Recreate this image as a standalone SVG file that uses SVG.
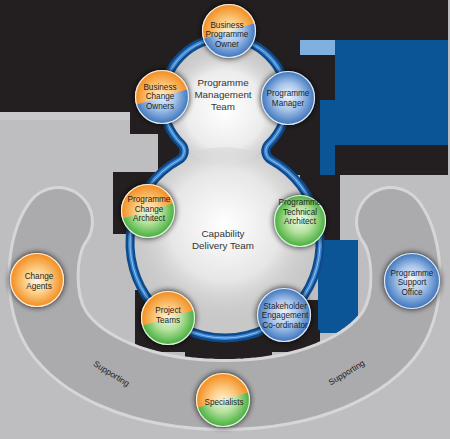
<svg xmlns="http://www.w3.org/2000/svg" width="450" height="439" viewBox="0 0 450 439">
<defs>
<style>
.nt{font-family:"Liberation Sans",Arial,sans-serif;font-size:8.2px;fill:#1e1e1e;text-anchor:middle}
.ct{font-family:"Liberation Sans",Arial,sans-serif;font-size:9.8px;fill:#333;text-anchor:middle}
.st{font-family:"Liberation Sans",Arial,sans-serif;font-size:8.4px;fill:#1e1e1e;text-anchor:middle}
.dk{fill:#231f20}
.bl{fill:#0b5596}
.rim{fill:none;stroke:#ffffff;stroke-opacity:.85;stroke-width:1.2}
</style>
<radialGradient id="gOr" cx=".5" cy=".5" r=".5" fx=".5" fy=".55">
<stop offset="0" stop-color="#fff6e6"/><stop offset=".45" stop-color="#fccf88"/><stop offset="1" stop-color="#f28a1c"/>
</radialGradient>
<radialGradient id="gBl" cx=".5" cy=".5" r=".5" fx=".5" fy=".45">
<stop offset="0" stop-color="#eef4fc"/><stop offset=".5" stop-color="#a8c5ea"/><stop offset="1" stop-color="#3b73bc"/>
</radialGradient>
<radialGradient id="gGr" cx=".5" cy=".5" r=".5" fx=".5" fy=".45">
<stop offset="0" stop-color="#f3fbee"/><stop offset=".5" stop-color="#b6e29e"/><stop offset="1" stop-color="#42ad3a"/>
</radialGradient>
<radialGradient id="gTop" cx=".5" cy=".55" r=".55">
<stop offset="0" stop-color="#ffffff"/><stop offset=".6" stop-color="#ececec"/><stop offset="1" stop-color="#cfcfcf" stop-opacity="0"/>
</radialGradient>
<radialGradient id="gBot" cx=".5" cy=".42" r=".55">
<stop offset="0" stop-color="#ffffff"/><stop offset=".55" stop-color="#e6e6e6"/><stop offset="1" stop-color="#c4c4c4" stop-opacity="0"/>
</radialGradient>
<clipPath id="topPart"><path d="M-40,-40 H40 V-12 L-40,12 Z"/></clipPath>
<filter id="sh" x="-40%" y="-40%" width="180%" height="180%">
<feGaussianBlur in="SourceAlpha" stdDeviation="3"/>
<feComponentTransfer><feFuncA type="linear" slope="0.9"/></feComponentTransfer>
<feMerge><feMergeNode/><feMergeNode in="SourceGraphic"/></feMerge>
</filter>
</defs>

<g id="background">
<rect x="0" y="0" width="450" height="439" fill="#bebec0"/>
<rect x="0" y="112" width="130" height="8" fill="#c9c9cb"/>
<rect class="dk" x="0" y="0" width="448" height="40"/>
<rect class="dk" x="0" y="40" width="335" height="72"/>
<rect class="bl" x="335" y="40" width="113" height="105"/>
<rect x="300" y="40" width="35" height="15" fill="#7fb0e0"/>
<rect class="dk" x="335" y="145" width="113" height="30"/>
<rect class="dk" x="130" y="112" width="30" height="22"/>
<rect class="dk" x="158" y="112" width="177" height="63"/>
<rect class="bl" x="320" y="100" width="15" height="90"/>
<rect class="dk" x="113" y="172" width="50" height="62"/>
<rect class="dk" x="300" y="175" width="40" height="65"/>
<rect class="bl" x="318" y="240" width="40" height="93"/>
<rect class="dk" x="135" y="290" width="30" height="62"/>
<rect class="dk" x="135" y="330" width="185" height="22"/>
<rect class="dk" x="185" y="352" width="87" height="10"/>
<rect class="dk" x="295" y="300" width="23" height="45"/>
</g>

<g id="band">
<path d="M58,222 C40,245 38,300 57,330 C80,365 140,395 224.5,395 C309,395 369,365 392,330 C411,300 409,245 391,222" fill="none" stroke="#d6d6d8" stroke-width="72" stroke-linecap="round" stroke-dasharray="5 2"/>
<path d="M58,222 C40,245 38,300 57,330 C80,365 140,395 224.5,395 C309,395 369,365 392,330 C411,300 409,245 391,222" fill="none" stroke="#ababad" stroke-width="66" stroke-linecap="round"/>
<text class="st" transform="translate(110,376) rotate(32)">Supporting</text>
<text class="st" transform="translate(348,375) rotate(-31)">Supporting</text>
</g>

<g id="teams">
<path d="M181.3,144 A62,62 0 1 1 268.7,144 A10,10 0 0 0 270.9,159.85 A95,95 0 1 1 179.1,159.85 A10,10 0 0 0 181.3,144 Z" fill="#c8c8c8"/>
<circle cx="225" cy="104" r="60" fill="url(#gTop)"/>
<circle cx="225" cy="240" r="93" fill="url(#gBot)"/>
<path d="M181.3,144 A62,62 0 1 1 268.7,144 A10,10 0 0 0 270.9,159.85 A95,95 0 1 1 179.1,159.85 A10,10 0 0 0 181.3,144 Z" fill="none" stroke="#0e4a8c" stroke-width="9"/>
<path d="M181.3,144 A62,62 0 1 1 268.7,144 A10,10 0 0 0 270.9,159.85 A95,95 0 1 1 179.1,159.85 A10,10 0 0 0 181.3,144 Z" fill="none" stroke="#3d86cf" stroke-width="4"/>
<path d="M181.3,144 A62,62 0 1 1 268.7,144 A10,10 0 0 0 270.9,159.85 A95,95 0 1 1 179.1,159.85 A10,10 0 0 0 181.3,144 Z" fill="none" stroke="#8cc0ee" stroke-width="1"/>
<text class="ct" x="223" y="86">Programme</text>
<text class="ct" x="223" y="98">Management</text>
<text class="ct" x="223" y="110">Team</text>
<text class="ct" x="223" y="237">Capability</text>
<text class="ct" x="223" y="249">Delivery Team</text>
</g>

<g id="business-programme-owner" transform="translate(229,31)">
<g filter="url(#sh)"><circle r="27" fill="url(#gBl)"/><circle r="27" fill="url(#gOr)" clip-path="url(#topPart)"/></g>
<circle r="26.5" class="rim"/>
<text class="nt" x="-2" y="-3">Business</text><text class="nt" x="-2" y="6.3">Programme</text><text class="nt" x="-2" y="15.6">Owner</text>
</g>

<g id="business-change-owners" transform="translate(162,97)">
<g filter="url(#sh)"><circle r="27" fill="url(#gBl)"/><circle r="27" fill="url(#gOr)" clip-path="url(#topPart)"/></g>
<circle r="26.5" class="rim"/>
<text class="nt" x="-2" y="-7">Business</text><text class="nt" x="-2" y="2.3">Change</text><text class="nt" x="-2" y="11.6">Owners</text>
</g>

<g id="programme-manager" transform="translate(288,98)">
<g filter="url(#sh)"><circle r="27" fill="url(#gBl)"/></g>
<circle r="26.5" class="rim"/>
<text class="nt" x="0" y="-2">Programme</text><text class="nt" x="0" y="8">Manager</text>
</g>

<g id="programme-change-architect" transform="translate(148,211)">
<g filter="url(#sh)"><circle r="27" fill="url(#gGr)"/><circle r="27" fill="url(#gOr)" clip-path="url(#topPart)"/></g>
<circle r="26.5" class="rim"/>
<text class="nt" x="1" y="-9">Programme</text><text class="nt" x="1" y="0.7">Change</text><text class="nt" x="1" y="10">Architect</text>
</g>

<g id="programme-technical-architect" transform="translate(300,221)">
<g filter="url(#sh)"><circle r="26" fill="url(#gGr)"/></g>
<circle r="25.5" class="rim"/>
<text class="nt" x="0" y="-16">Programme</text><text class="nt" x="0" y="-6.3">Technical</text><text class="nt" x="0" y="3">Architect</text>
</g>

<g id="project-teams" transform="translate(168,318)">
<g filter="url(#sh)"><circle r="27" fill="url(#gGr)"/><circle r="27" fill="url(#gOr)" clip-path="url(#topPart)"/></g>
<circle r="26.5" class="rim"/>
<text class="nt" x="0" y="-5">Project</text><text class="nt" x="0" y="4.5">Teams</text>
</g>

<g id="stakeholder-engagement-coordinator" transform="translate(284,315)">
<g filter="url(#sh)"><circle r="27" fill="url(#gBl)"/></g>
<circle r="26.5" class="rim"/>
<text class="nt" x="1" y="-6">Stakeholder</text><text class="nt" x="1" y="3.3">Engagement</text><text class="nt" x="1" y="12.6">Co-ordinator</text>
</g>

<g id="change-agents" transform="translate(37,280)">
<g filter="url(#sh)"><circle r="27" fill="url(#gOr)"/></g>
<circle r="26.5" class="rim"/>
<text class="nt" x="2" y="-1">Change</text><text class="nt" x="2" y="9">Agents</text>
</g>

<g id="programme-support-office" transform="translate(412,281)">
<g filter="url(#sh)"><circle r="28" fill="url(#gBl)"/></g>
<circle r="27.5" class="rim"/>
<text class="nt" x="0" y="-5">Programme</text><text class="nt" x="0" y="4.3">Support</text><text class="nt" x="0" y="13.6">Office</text>
</g>

<g id="specialists" transform="translate(223,400)">
<g filter="url(#sh)"><circle r="27" fill="url(#gGr)"/><circle r="27" fill="url(#gOr)" clip-path="url(#topPart)"/></g>
<circle r="26.5" class="rim"/>
<text class="nt" x="1" y="5">Specialists</text>
</g>
</svg>
